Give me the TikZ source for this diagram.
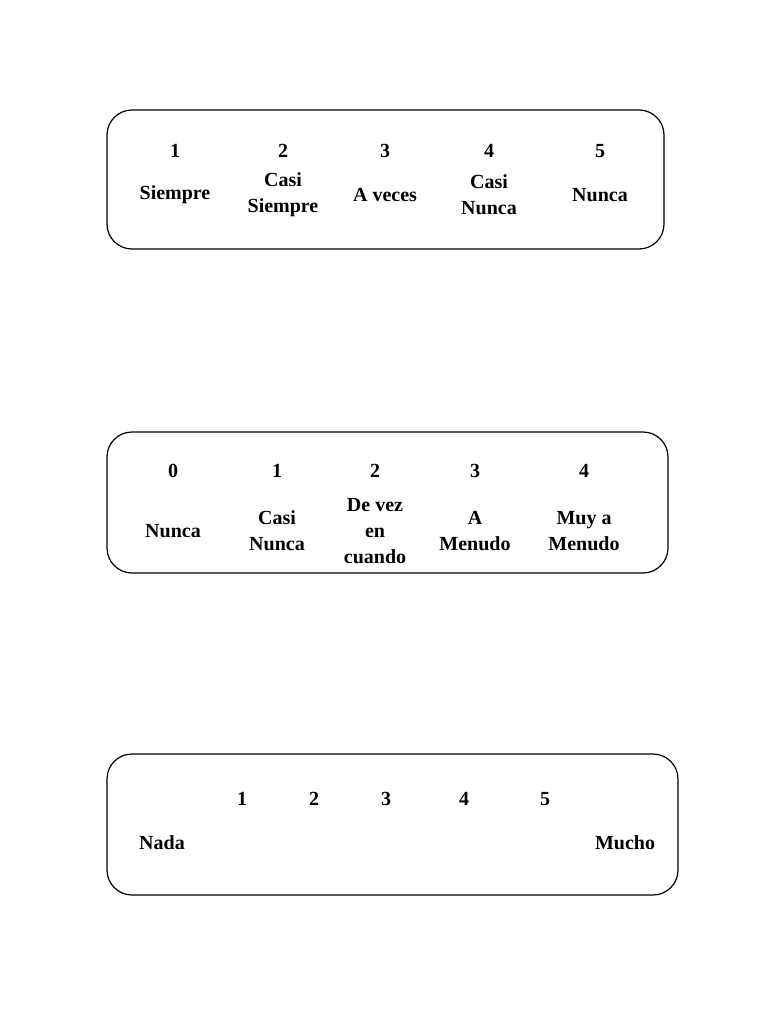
\documentclass[tikz,border=0pt]{standalone}
\usepackage{fontspec}
\setmainfont{Liberation Serif}
\begin{document}
\begin{tikzpicture}[x=1pt,y=-1pt,
  box/.style={draw,line width=1.2pt,rounded corners=25pt},
  t/.style={font=\fontsize{20}{26}\selectfont\bfseries,align=center,inner sep=0pt}]
\useasboundingbox (0,0) rectangle (768,1024);
\draw[box] (107,110) rectangle (664,249);
\draw[box] (107,432) rectangle (668,573);
\draw[box] (107,754) rectangle (678,895);
% box 1
\node[t] (a1) at (175,151) {1};
\node[t] (a2) at (283,151) {2};
\node[t] (a3) at (385,151) {3};
\node[t] (a4) at (489,151) {4};
\node[t] (a5) at (600,151) {5};
\node[t] (b1) at (175,195) {Siempre};
\node[t] (b2) at (283,195) {Casi\\Siempre};
\node[t] (b3) at (385,195) {A veces};
\node[t] (b4) at (489,195) {Casi\\Nunca};
\node[t] (b5) at (600,195) {Nunca};
% box 2
\node[t] (c1) at (173,471) {0};
\node[t] (c2) at (277,471) {1};
\node[t] (c3) at (375,471) {2};
\node[t] (c4) at (475,471) {3};
\node[t] (c5) at (584,471) {4};
\node[t] (d1) at (173,531) {Nunca};
\node[t] (d2) at (277,531) {Casi\\Nunca};
\node[t] (d3) at (375,531) {De vez\\en\\cuando};
\node[t] (d4) at (475,531) {A\\Menudo};
\node[t] (d5) at (584,531) {Muy a\\Menudo};
% box 3
\node[t] (e1) at (242,799) {1};
\node[t] (e2) at (314,799) {2};
\node[t] (e3) at (386,799) {3};
\node[t] (e4) at (464,799) {4};
\node[t] (e5) at (545,799) {5};
\node[t] (f1) at (162,843) {Nada};
\node[t] (f2) at (625,843) {Mucho};
\end{tikzpicture}
\end{document}
